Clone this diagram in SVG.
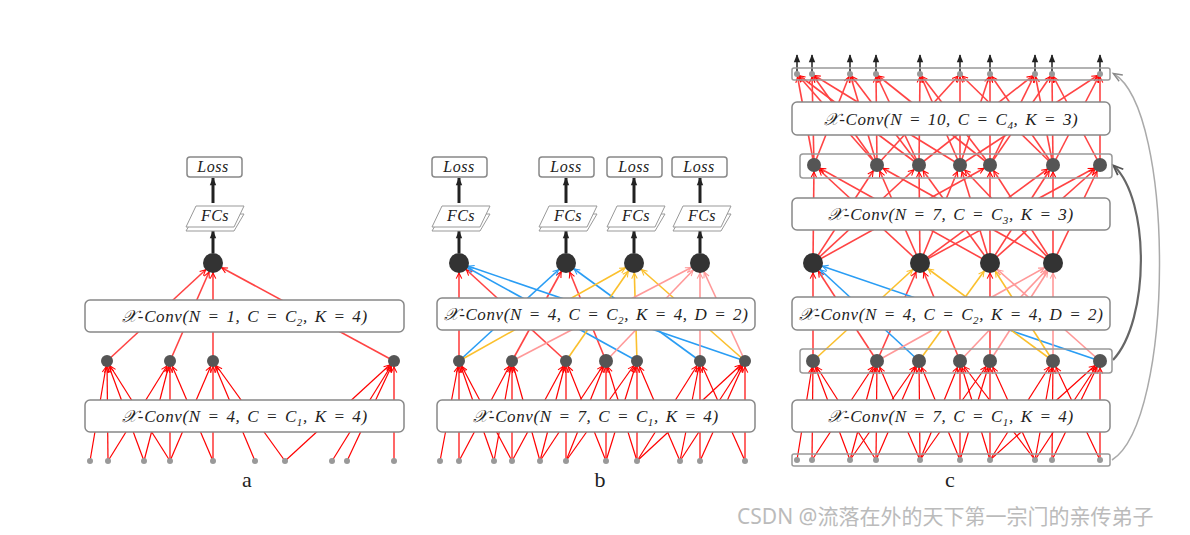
<svg xmlns="http://www.w3.org/2000/svg" width="1190" height="535" viewBox="0 0 1190 535">
<style>
.e{stroke:#f00;stroke-width:1.2;fill:none}
.t{stroke:#f44;stroke-width:1.6;fill:none}
.bl{stroke:#2a9df4;stroke-width:1.6;fill:none}
.ye{stroke:#fbc02d;stroke-width:1.6;fill:none}
.pk{stroke:#f99;stroke-width:1.6;fill:none}
.k{stroke:#222;stroke-width:3;fill:none}
.box{fill:#fff;stroke:#888;stroke-width:1.5}
.row{fill:none;stroke:#999;stroke-width:1.5}
.lab{font-family:"Liberation Serif",serif;font-style:italic;font-size:17px;fill:#222;text-anchor:middle;letter-spacing:0.6px;word-spacing:2px}
.ls{font-family:"Liberation Serif",serif;font-style:italic;font-size:16px;fill:#222;text-anchor:middle;letter-spacing:0.5px}
.cap{font-family:"Liberation Serif",serif;font-size:22px;fill:#222;text-anchor:middle}
.sm{fill:#555}.bg{fill:#333}.dt{fill:#999}
.fc{fill:#fff;stroke:#999;stroke-width:1}
</style>
<defs>
<marker id="r3" markerUnits="userSpaceOnUse" viewBox="0 0 10 10" markerWidth="7" markerHeight="7" refX="12.3" refY="5" orient="auto" overflow="visible"><path d="M0,1 L8,5 L0,9" fill="none" stroke="#f00" stroke-width="1.5"/></marker>
<marker id="r6" markerUnits="userSpaceOnUse" viewBox="0 0 10 10" markerWidth="7" markerHeight="7" refX="16.6" refY="5" orient="auto" overflow="visible"><path d="M0,1 L8,5 L0,9" fill="none" stroke="#f00" stroke-width="1.5"/></marker>
<marker id="r7" markerUnits="userSpaceOnUse" viewBox="0 0 10 10" markerWidth="7" markerHeight="7" refX="18" refY="5" orient="auto" overflow="visible"><path d="M0,1 L8,5 L0,9" fill="none" stroke="#f00" stroke-width="1.5"/></marker>
<marker id="r10" markerUnits="userSpaceOnUse" viewBox="0 0 10 10" markerWidth="7" markerHeight="7" refX="22.3" refY="5" orient="auto" overflow="visible"><path d="M0,1 L8,5 L0,9" fill="none" stroke="#f00" stroke-width="1.5"/></marker>
<marker id="b10" markerUnits="userSpaceOnUse" viewBox="0 0 10 10" markerWidth="7" markerHeight="7" refX="22.3" refY="5" orient="auto" overflow="visible"><path d="M0,1 L8,5 L0,9" fill="none" stroke="#2a9df4" stroke-width="1.5"/></marker>
<marker id="y10" markerUnits="userSpaceOnUse" viewBox="0 0 10 10" markerWidth="7" markerHeight="7" refX="22.3" refY="5" orient="auto" overflow="visible"><path d="M0,1 L8,5 L0,9" fill="none" stroke="#fbc02d" stroke-width="1.5"/></marker>
<marker id="p10" markerUnits="userSpaceOnUse" viewBox="0 0 10 10" markerWidth="7" markerHeight="7" refX="22.3" refY="5" orient="auto" overflow="visible"><path d="M0,1 L8,5 L0,9" fill="none" stroke="#f99" stroke-width="1.5"/></marker>
<marker id="ka" markerUnits="userSpaceOnUse" viewBox="0 0 10 10" markerWidth="8" markerHeight="8" refX="9" refY="5" orient="auto" overflow="visible"><path d="M0,1 L10,5 L0,9 z" fill="#222"/></marker>
<marker id="ga" markerUnits="userSpaceOnUse" viewBox="0 0 10 10" markerWidth="9" markerHeight="9" refX="9" refY="5" orient="auto" overflow="visible"><path d="M0,1 L10,5 L0,9" fill="none" stroke="#888" stroke-width="1.5"/></marker>
<marker id="ga2" markerUnits="userSpaceOnUse" viewBox="0 0 10 10" markerWidth="10" markerHeight="10" refX="9" refY="5" orient="auto" overflow="visible"><path d="M0,1 L10,5 L0,9" fill="none" stroke="#555" stroke-width="1.8"/></marker>
</defs>
<rect width="1190" height="535" fill="#fff"/>

<g id="connectors">
<g class="e" marker-end="url(#r6)">
<line x1="90" y1="461" x2="107" y2="361"/><line x1="108" y1="461" x2="107" y2="361"/><line x1="144" y1="461" x2="107" y2="361"/><line x1="170" y1="461" x2="107" y2="361"/>
<line x1="108" y1="461" x2="170" y2="361"/><line x1="144" y1="461" x2="170" y2="361"/><line x1="170" y1="461" x2="170" y2="361"/><line x1="213" y1="461" x2="170" y2="361"/>
<line x1="170" y1="461" x2="213" y2="361"/><line x1="213" y1="461" x2="213" y2="361"/><line x1="255" y1="461" x2="213" y2="361"/><line x1="285" y1="461" x2="213" y2="361"/>
<line x1="285" y1="461" x2="394" y2="361"/><line x1="332" y1="461" x2="394" y2="361"/><line x1="347" y1="461" x2="394" y2="361"/><line x1="394" y1="461" x2="394" y2="361"/>
</g>
<g class="t" marker-end="url(#r10)">
<line x1="107" y1="361" x2="213" y2="263"/><line x1="170" y1="361" x2="213" y2="263"/><line x1="213" y1="361" x2="213" y2="263"/><line x1="394" y1="361" x2="213" y2="263"/>
</g>
<g class="e" marker-end="url(#r6)">
<line x1="440" y1="461" x2="459" y2="361"/><line x1="459" y1="461" x2="459" y2="361"/><line x1="494" y1="461" x2="459" y2="361"/><line x1="512" y1="461" x2="459" y2="361"/>
<line x1="494" y1="461" x2="512" y2="361"/><line x1="512" y1="461" x2="512" y2="361"/><line x1="540" y1="461" x2="512" y2="361"/><line x1="459" y1="461" x2="512" y2="361"/>
<line x1="540" y1="461" x2="566" y2="361"/><line x1="566" y1="461" x2="566" y2="361"/><line x1="606" y1="461" x2="566" y2="361"/><line x1="512" y1="461" x2="566" y2="361"/>
<line x1="566" y1="461" x2="606" y2="361"/><line x1="606" y1="461" x2="606" y2="361"/><line x1="637" y1="461" x2="606" y2="361"/><line x1="540" y1="461" x2="606" y2="361"/>
<line x1="606" y1="461" x2="637" y2="361"/><line x1="637" y1="461" x2="637" y2="361"/><line x1="680" y1="461" x2="637" y2="361"/><line x1="566" y1="461" x2="637" y2="361"/>
<line x1="680" y1="461" x2="700" y2="361"/><line x1="700" y1="461" x2="700" y2="361"/><line x1="745" y1="461" x2="700" y2="361"/><line x1="637" y1="461" x2="700" y2="361"/>
<line x1="700" y1="461" x2="745" y2="361"/><line x1="745" y1="461" x2="745" y2="361"/><line x1="680" y1="461" x2="745" y2="361"/><line x1="637" y1="461" x2="745" y2="361"/>
</g>
<g class="t" marker-end="url(#r10)">
<line x1="459" y1="361" x2="459" y2="263"/><line x1="566" y1="361" x2="459" y2="263"/>
<line x1="606" y1="361" x2="566" y2="263"/><line x1="512" y1="361" x2="566" y2="263"/>
</g>
<g class="bl" marker-end="url(#b10)">
<line x1="637" y1="361" x2="459" y2="263"/><line x1="745" y1="361" x2="459" y2="263"/>
<line x1="459" y1="361" x2="566" y2="263"/><line x1="700" y1="361" x2="566" y2="263"/>
</g>
<g class="ye" marker-end="url(#y10)">
<line x1="459" y1="361" x2="634" y2="263"/><line x1="566" y1="361" x2="634" y2="263"/><line x1="637" y1="361" x2="634" y2="263"/><line x1="745" y1="361" x2="634" y2="263"/>
</g>
<g class="pk" marker-end="url(#p10)">
<line x1="512" y1="361" x2="700" y2="263"/><line x1="606" y1="361" x2="700" y2="263"/><line x1="700" y1="361" x2="700" y2="263"/><line x1="745" y1="361" x2="700" y2="263"/>
</g>
<g class="e" marker-end="url(#r7)">
<line x1="797" y1="460" x2="813" y2="361"/><line x1="812" y1="460" x2="813" y2="361"/><line x1="850" y1="460" x2="813" y2="361"/><line x1="876" y1="460" x2="813" y2="361"/>
<line x1="850" y1="460" x2="877" y2="361"/><line x1="876" y1="460" x2="877" y2="361"/><line x1="920" y1="460" x2="877" y2="361"/><line x1="812" y1="460" x2="877" y2="361"/>
<line x1="876" y1="460" x2="919" y2="361"/><line x1="920" y1="460" x2="919" y2="361"/><line x1="960" y1="460" x2="919" y2="361"/><line x1="850" y1="460" x2="919" y2="361"/>
<line x1="920" y1="460" x2="960" y2="361"/><line x1="960" y1="460" x2="960" y2="361"/><line x1="990" y1="460" x2="960" y2="361"/><line x1="1035" y1="460" x2="960" y2="361"/>
<line x1="960" y1="460" x2="990" y2="361"/><line x1="990" y1="460" x2="990" y2="361"/><line x1="1035" y1="460" x2="990" y2="361"/><line x1="920" y1="460" x2="990" y2="361"/>
<line x1="1035" y1="460" x2="1053" y2="361"/><line x1="1052" y1="460" x2="1053" y2="361"/><line x1="1100" y1="460" x2="1053" y2="361"/><line x1="990" y1="460" x2="1053" y2="361"/>
<line x1="1052" y1="460" x2="1100" y2="361"/><line x1="1100" y1="460" x2="1100" y2="361"/><line x1="1035" y1="460" x2="1100" y2="361"/><line x1="990" y1="460" x2="1100" y2="361"/>
</g>
<g class="t" marker-end="url(#r10)">
<line x1="813" y1="361" x2="813" y2="263"/><line x1="877" y1="361" x2="813" y2="263"/>
<line x1="877" y1="361" x2="920" y2="263"/><line x1="960" y1="361" x2="920" y2="263"/>
<line x1="990" y1="361" x2="990" y2="263"/>
</g>
<g class="bl" marker-end="url(#b10)">
<line x1="919" y1="361" x2="813" y2="263"/><line x1="1100" y1="361" x2="813" y2="263"/>
</g>
<g class="ye" marker-end="url(#y10)">
<line x1="813" y1="361" x2="920" y2="263"/><line x1="1053" y1="361" x2="920" y2="263"/>
<line x1="919" y1="361" x2="990" y2="263"/><line x1="1053" y1="361" x2="990" y2="263"/>
</g>
<g class="pk" marker-end="url(#p10)">
<line x1="1100" y1="361" x2="990" y2="263"/>
<line x1="960" y1="361" x2="1053" y2="263"/><line x1="1053" y1="361" x2="1053" y2="263"/><line x1="990" y1="361" x2="1053" y2="263"/><line x1="877" y1="361" x2="1053" y2="263"/>
</g>
<g class="t" marker-end="url(#r7)">
<line x1="813" y1="263" x2="814" y2="165"/><line x1="920" y1="263" x2="814" y2="165"/><line x1="990" y1="263" x2="814" y2="165"/>
<line x1="813" y1="263" x2="877" y2="165"/><line x1="920" y1="263" x2="877" y2="165"/><line x1="1053" y1="263" x2="877" y2="165"/>
<line x1="813" y1="263" x2="919" y2="165"/><line x1="920" y1="263" x2="919" y2="165"/><line x1="990" y1="263" x2="919" y2="165"/>
<line x1="920" y1="263" x2="960" y2="165"/><line x1="990" y1="263" x2="960" y2="165"/><line x1="1053" y1="263" x2="960" y2="165"/>
<line x1="813" y1="263" x2="990" y2="165"/><line x1="990" y1="263" x2="990" y2="165"/><line x1="1053" y1="263" x2="990" y2="165"/>
<line x1="920" y1="263" x2="1053" y2="165"/><line x1="990" y1="263" x2="1053" y2="165"/><line x1="1053" y1="263" x2="1053" y2="165"/>
<line x1="920" y1="263" x2="1100" y2="165"/><line x1="990" y1="263" x2="1100" y2="165"/><line x1="1053" y1="263" x2="1100" y2="165"/>
</g>
<g class="t" marker-end="url(#r3)">
<line x1="814" y1="165" x2="797" y2="74"/><line x1="877" y1="165" x2="797" y2="74"/><line x1="919" y1="165" x2="797" y2="74"/>
<line x1="814" y1="165" x2="812" y2="74"/><line x1="877" y1="165" x2="812" y2="74"/><line x1="960" y1="165" x2="812" y2="74"/>
<line x1="814" y1="165" x2="850" y2="74"/><line x1="919" y1="165" x2="850" y2="74"/><line x1="877" y1="165" x2="850" y2="74"/>
<line x1="877" y1="165" x2="876" y2="74"/><line x1="919" y1="165" x2="876" y2="74"/><line x1="990" y1="165" x2="876" y2="74"/>
<line x1="919" y1="165" x2="920" y2="74"/><line x1="960" y1="165" x2="920" y2="74"/><line x1="990" y1="165" x2="920" y2="74"/>
<line x1="877" y1="165" x2="960" y2="74"/><line x1="960" y1="165" x2="960" y2="74"/><line x1="1053" y1="165" x2="960" y2="74"/>
<line x1="960" y1="165" x2="990" y2="74"/><line x1="990" y1="165" x2="990" y2="74"/><line x1="1053" y1="165" x2="990" y2="74"/>
<line x1="990" y1="165" x2="1035" y2="74"/><line x1="1053" y1="165" x2="1035" y2="74"/><line x1="919" y1="165" x2="1035" y2="74"/>
<line x1="1053" y1="165" x2="1052" y2="74"/><line x1="1100" y1="165" x2="1052" y2="74"/><line x1="990" y1="165" x2="1052" y2="74"/>
<line x1="1053" y1="165" x2="1100" y2="74"/><line x1="1100" y1="165" x2="1100" y2="74"/><line x1="960" y1="165" x2="1100" y2="74"/>
</g>
<g stroke="#222" stroke-width="1.5" marker-end="url(#ka)">
<line x1="797" y1="72" x2="797" y2="55"/><line x1="812" y1="72" x2="812" y2="55"/><line x1="850" y1="72" x2="850" y2="55"/><line x1="876" y1="72" x2="876" y2="55"/><line x1="920" y1="72" x2="920" y2="55"/>
<line x1="960" y1="72" x2="960" y2="55"/><line x1="990" y1="72" x2="990" y2="55"/><line x1="1035" y1="72" x2="1035" y2="55"/><line x1="1052" y1="72" x2="1052" y2="55"/><line x1="1100" y1="72" x2="1100" y2="55"/>
</g>
<g class="k" marker-end="url(#ka)">
<line x1="213" y1="253" x2="213" y2="231"/><line x1="213" y1="203" x2="213" y2="178"/>
<line x1="459" y1="253" x2="459" y2="231"/><line x1="459" y1="203" x2="459" y2="178"/>
<line x1="566" y1="253" x2="566" y2="231"/><line x1="566" y1="203" x2="566" y2="178"/>
<line x1="634" y1="253" x2="634" y2="231"/><line x1="634" y1="203" x2="634" y2="178"/>
<line x1="700" y1="253" x2="700" y2="231"/><line x1="700" y1="203" x2="700" y2="178"/>
</g>
<path d="M1112,460 C1175,420 1175,110 1114,74" fill="none" stroke="#aaa" stroke-width="1.5" marker-end="url(#ga)"/>
<path d="M1113,360 C1150,320 1150,200 1114,166" fill="none" stroke="#666" stroke-width="2.2" marker-end="url(#ga2)"/>
</g>

<g id="panel-a">
<g id="a-loss"><rect class="box" x="187" y="157" width="55" height="20" rx="3"/><text class="ls" x="213" y="172">Loss</text></g>
<g id="a-fcs"><polygon class="fc" points="186,231 196,214 244,214 234,231"/><polygon class="fc" points="186,227 196,206 244,206 234,227"/><text class="ls" x="215" y="221">FCs</text></g>
<g id="a-top"><circle class="bg" cx="213" cy="263" r="10"/></g>
<g id="a-conv2"><rect class="box" x="85" y="300" width="319" height="32" rx="5"/><text class="lab" x="245" y="322">𝒳-Conv(N = 1, C = C<tspan font-size="11" dy="4">2</tspan><tspan dy="-4">, K = 4)</tspan></text></g>
<g id="a-mid"><circle class="sm" cx="107" cy="361" r="6"/><circle class="sm" cx="170" cy="361" r="6"/><circle class="sm" cx="213" cy="361" r="6"/><circle class="sm" cx="394" cy="361" r="6"/></g>
<g id="a-conv1"><rect class="box" x="85" y="400" width="319" height="32" rx="5"/><text class="lab" x="245" y="422">𝒳-Conv(N = 4, C = C<tspan font-size="11" dy="4">1</tspan><tspan dy="-4">, K = 4)</tspan></text></g>
<g id="a-in"><circle class="dt" cx="90" cy="461" r="3"/><circle class="dt" cx="108" cy="461" r="3"/><circle class="dt" cx="144" cy="461" r="3"/><circle class="dt" cx="170" cy="461" r="3"/><circle class="dt" cx="213" cy="461" r="3"/><circle class="dt" cx="255" cy="461" r="3"/><circle class="dt" cx="285" cy="461" r="3"/><circle class="dt" cx="332" cy="461" r="3"/><circle class="dt" cx="347" cy="461" r="3"/><circle class="dt" cx="394" cy="461" r="3"/></g>
<text class="cap" x="247" y="487">a</text>
</g>

<g id="panel-b">
<g id="b-loss1"><rect class="box" x="432" y="157" width="55" height="20" rx="3"/><text class="ls" x="459" y="172">Loss</text></g>
<g id="b-loss2"><rect class="box" x="539" y="157" width="55" height="20" rx="3"/><text class="ls" x="566" y="172">Loss</text></g>
<g id="b-loss3"><rect class="box" x="607" y="157" width="55" height="20" rx="3"/><text class="ls" x="634" y="172">Loss</text></g>
<g id="b-loss4"><rect class="box" x="672" y="157" width="55" height="20" rx="3"/><text class="ls" x="699" y="172">Loss</text></g>
<g id="b-fc1"><polygon class="fc" points="432,231 442,214 490,214 480,231"/><polygon class="fc" points="432,227 442,206 490,206 480,227"/><text class="ls" x="461" y="221">FCs</text></g>
<g id="b-fc2"><polygon class="fc" points="539,231 549,214 597,214 587,231"/><polygon class="fc" points="539,227 549,206 597,206 587,227"/><text class="ls" x="568" y="221">FCs</text></g>
<g id="b-fc3"><polygon class="fc" points="607,231 617,214 665,214 655,231"/><polygon class="fc" points="607,227 617,206 665,206 655,227"/><text class="ls" x="636" y="221">FCs</text></g>
<g id="b-fc4"><polygon class="fc" points="673,231 683,214 731,214 721,231"/><polygon class="fc" points="673,227 683,206 731,206 721,227"/><text class="ls" x="702" y="221">FCs</text></g>
<g id="b-top"><circle class="bg" cx="459" cy="263" r="10"/><circle class="bg" cx="566" cy="263" r="10"/><circle class="bg" cx="634" cy="263" r="10"/><circle class="bg" cx="700" cy="263" r="10"/></g>
<g id="b-conv2"><rect class="box" x="437" y="298" width="318" height="32" rx="5"/><text class="lab" x="596" y="320">𝒳-Conv(N = 4, C = C<tspan font-size="11" dy="4">2</tspan><tspan dy="-4">, K = 4, D = 2)</tspan></text></g>
<g id="b-mid"><circle class="sm" cx="459" cy="361" r="6"/><circle class="sm" cx="512" cy="361" r="6"/><circle class="sm" cx="566" cy="361" r="6"/><circle class="sm" cx="606" cy="361" r="7"/><circle class="sm" cx="637" cy="361" r="6"/><circle class="sm" cx="700" cy="361" r="6"/><circle class="sm" cx="745" cy="361" r="6"/></g>
<g id="b-conv1"><rect class="box" x="437" y="400" width="318" height="32" rx="5"/><text class="lab" x="596" y="422">𝒳-Conv(N = 7, C = C<tspan font-size="11" dy="4">1</tspan><tspan dy="-4">, K = 4)</tspan></text></g>
<g id="b-in"><circle class="dt" cx="440" cy="461" r="3"/><circle class="dt" cx="459" cy="461" r="3"/><circle class="dt" cx="494" cy="461" r="3"/><circle class="dt" cx="512" cy="461" r="3"/><circle class="dt" cx="540" cy="461" r="3"/><circle class="dt" cx="566" cy="461" r="3"/><circle class="dt" cx="606" cy="461" r="3"/><circle class="dt" cx="637" cy="461" r="3"/><circle class="dt" cx="680" cy="461" r="3"/><circle class="dt" cx="700" cy="461" r="3"/><circle class="dt" cx="745" cy="461" r="3"/></g>
<text class="cap" x="600" y="487">b</text>
</g>

<g id="panel-c">
<g id="c-out"><rect class="row" x="792" y="68" width="318" height="12" rx="2"/><g class="dt"><circle cx="797" cy="74" r="3"/><circle cx="812" cy="74" r="3"/><circle cx="850" cy="74" r="3"/><circle cx="876" cy="74" r="3"/><circle cx="920" cy="74" r="3"/><circle cx="960" cy="74" r="3"/><circle cx="990" cy="74" r="3"/><circle cx="1035" cy="74" r="3"/><circle cx="1052" cy="74" r="3"/><circle cx="1100" cy="74" r="3"/></g></g>
<g id="c-conv4"><rect class="box" x="792" y="102" width="318" height="33" rx="5"/><text class="lab" x="951" y="125">𝒳-Conv(N = 10, C = C<tspan font-size="11" dy="4">4</tspan><tspan dy="-4">, K = 3)</tspan></text></g>
<g id="c-row3"><rect class="row" x="800" y="154" width="312" height="24" rx="3"/><g class="sm"><circle cx="814" cy="165" r="7"/><circle cx="877" cy="165" r="7"/><circle cx="919" cy="165" r="7"/><circle cx="960" cy="165" r="7"/><circle cx="990" cy="165" r="7"/><circle cx="1053" cy="165" r="7"/><circle cx="1100" cy="165" r="7"/></g></g>
<g id="c-conv3"><rect class="box" x="792" y="198" width="318" height="32" rx="5"/><text class="lab" x="951" y="220">𝒳-Conv(N = 7, C = C<tspan font-size="11" dy="4">3</tspan><tspan dy="-4">, K = 3)</tspan></text></g>
<g id="c-top"><circle class="bg" cx="813" cy="263" r="10"/><circle class="bg" cx="920" cy="263" r="10"/><circle class="bg" cx="990" cy="263" r="10"/><circle class="bg" cx="1053" cy="263" r="10"/></g>
<g id="c-conv2"><rect class="box" x="792" y="297" width="318" height="33" rx="5"/><text class="lab" x="951" y="320">𝒳-Conv(N = 4, C = C<tspan font-size="11" dy="4">2</tspan><tspan dy="-4">, K = 4, D = 2)</tspan></text></g>
<g id="c-row1"><rect class="row" x="800" y="349" width="312" height="24" rx="3"/><g class="sm"><circle cx="813" cy="361" r="7"/><circle cx="877" cy="361" r="7"/><circle cx="919" cy="361" r="7"/><circle cx="960" cy="361" r="7"/><circle cx="990" cy="361" r="7"/><circle cx="1053" cy="361" r="7"/><circle cx="1100" cy="361" r="7"/></g></g>
<g id="c-conv1"><rect class="box" x="792" y="400" width="318" height="32" rx="5"/><text class="lab" x="951" y="422">𝒳-Conv(N = 7, C = C<tspan font-size="11" dy="4">1</tspan><tspan dy="-4">, K = 4)</tspan></text></g>
<g id="c-in"><rect class="row" x="792" y="454" width="318" height="12" rx="2"/><g class="dt"><circle cx="797" cy="460" r="3"/><circle cx="812" cy="460" r="3"/><circle cx="850" cy="460" r="3"/><circle cx="876" cy="460" r="3"/><circle cx="920" cy="460" r="3"/><circle cx="960" cy="460" r="3"/><circle cx="990" cy="460" r="3"/><circle cx="1035" cy="460" r="3"/><circle cx="1052" cy="460" r="3"/><circle cx="1100" cy="460" r="3"/></g></g>
<text class="cap" x="950" y="487">c</text>
</g>
<text x="737" y="524" font-family="'Noto Sans','Noto Sans CJK SC',sans-serif" font-size="21" fill="#bbb">CSDN @流落在外的天下第一宗门的亲传弟子</text>
</svg>
